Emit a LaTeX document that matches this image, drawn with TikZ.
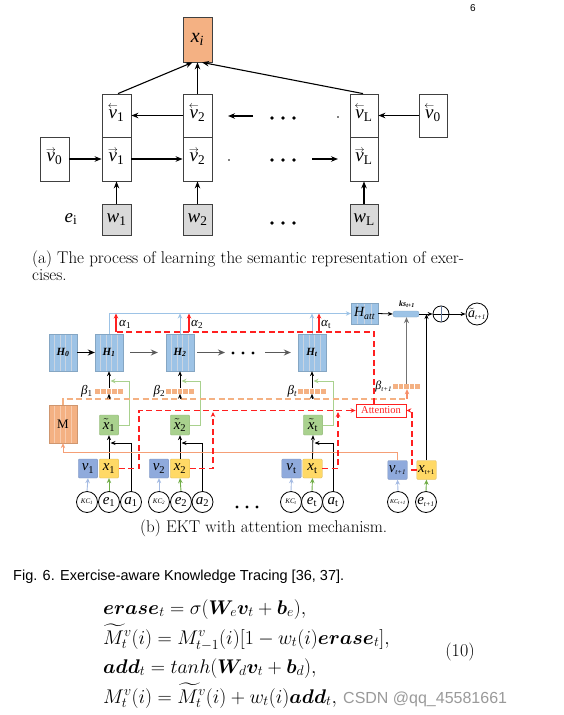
\RequirePackage{fix-cm}
\documentclass[tikz,border=0pt]{standalone}
\usepackage{amsmath,bm}
\usepackage{fontspec}
\newfontfamily\tnr{Liberation Serif}
\newfontfamily\arial{Liberation Sans}
\usetikzlibrary{arrows.meta,calc}
\definecolor{orn}{HTML}{F4B183}
\definecolor{gry}{HTML}{D9D9D9}
\definecolor{hblue}{HTML}{9DC3E6}
\definecolor{stripec}{HTML}{C9D4E2}
\definecolor{mstripe}{HTML}{F8CBAD}
\definecolor{vblue}{HTML}{8FAADC}
\definecolor{yel}{HTML}{FFD966}
\definecolor{grn}{HTML}{A9D18E}
\definecolor{grnd}{HTML}{70AD47}
\definecolor{redd}{HTML}{FF2020}
\definecolor{wmgray}{HTML}{9A9A9A}
\newcommand\lv[1]{\leavevmode\hbox{\ooalign{\itshape #1\cr\hidewidth\raisebox{0.5em}{\fontsize{10}{10}\selectfont$\leftarrow$}\hidewidth\cr}}}
\newcommand\rv[1]{\leavevmode\hbox{\ooalign{\itshape #1\cr\hidewidth\raisebox{0.5em}{\fontsize{10}{10}\selectfont$\rightarrow$}\hidewidth\cr}}}
\newcommand\tl[1]{$\tilde{\hbox{\itshape #1}}$}
\newcommand\ssb[1]{\textsubscript{\fontsize{7}{7}\selectfont #1}}
\begin{document}
\begin{tikzpicture}[x=1pt,y=-1pt,
  abox/.style={draw=black!75, line width=0.8pt, fill=white, inner sep=0pt,
    font=\tnr\fontsize{19}{19}\selectfont},
  arr/.style={-{Stealth[length=7pt,width=5.5pt]}, line width=1.1pt},
  stripes/.style={path picture={
    \foreach \i [evaluate=\i as \f using \i/(#1+1)] in {1,...,#1}
      \draw[stripec, line width=0.7pt]
        ($(path picture bounding box.north west)!\f!(path picture bounding box.north east)$) --
        ($(path picture bounding box.south west)!\f!(path picture bounding box.south east)$);}},
  mstripes/.style={path picture={
    \foreach \i [evaluate=\i as \f using \i/(#1+1)] in {1,...,#1}
      \draw[mstripe, line width=0.7pt]
        ($(path picture bounding box.north west)!\f!(path picture bounding box.north east)$) --
        ($(path picture bounding box.south west)!\f!(path picture bounding box.south east)$);}},
  bstripes/.style={path picture={
    \foreach \i [evaluate=\i as \f using \i/5] in {1,...,4}
      \draw[white, line width=0.8pt]
        ($(path picture bounding box.north west)!\f!(path picture bounding box.north east)$) --
        ($(path picture bounding box.south west)!\f!(path picture bounding box.south east)$);}},
  hb/.style={fill=hblue, draw=hblue!85!black, line width=0.3pt, inner sep=0pt,
    minimum width=28, minimum height=37, stripes=4,
    font=\tnr\bfseries\itshape\fontsize{11}{11}\selectfont},
  mb/.style={fill=orn, draw=orn!85!black, line width=0.3pt, inner sep=0pt,
    minimum width=28, minimum height=38, mstripes=4,
    font=\tnr\fontsize{13}{13}\selectfont},
  bb/.style={fill=orn, inner sep=0pt, minimum width=28, minimum height=5, bstripes},
  sbox/.style={fill=#1, draw=#1!85!black, line width=0.3pt, rounded corners=1.2pt,
    inner sep=0pt, minimum width=19.5, minimum height=19,
    font=\tnr\fontsize{15}{15}\selectfont},
  cir/.style={circle, draw=black, line width=0.8pt, fill=white, inner sep=0pt,
    minimum size=21, font=\tnr\fontsize{15}{15}\selectfont},
  lab/.style={inner sep=0pt, font=\tnr\itshape\fontsize{13}{13}\selectfont},
  barr/.style={-{Stealth[length=5pt,width=4pt]}, line width=0.8pt},
  harr/.style={-{Stealth[length=7pt,width=6pt]}, line width=1.3pt, black!65},
  bluearr/.style={hblue, line width=1pt, -{Stealth[length=5pt,width=4.5pt]}},
  redl/.style={redd, line width=1.1pt},
  reddash/.style={redd, line width=1.1pt, dash pattern=on 6pt off 3.5pt},
  reddarr/.style={reddash, -{Stealth[length=5pt,width=4.5pt]}},
  redarr/.style={redl, -{Stealth[length=5pt,width=4.5pt]}},
  orndash/.style={orn, line width=1.1pt, dash pattern=on 6pt off 3.5pt},
  ornarr/.style={orn!80!red, line width=1.1pt, -{Stealth[length=5pt,width=4.5pt]}},
  ornsol/.style={orn!90!red, line width=0.9pt, -{Stealth[length=5pt,width=4.5pt]}},
  grnarr/.style={grn, line width=0.9pt, -{Stealth[length=5pt,width=4.5pt]}},
  gdarr/.style={grnd, line width=0.9pt, -{Stealth[length=5pt,width=4.5pt]}},
  lbarr/.style={vblue!80!white, line width=0.9pt, -{Stealth[length=5pt,width=4.5pt]}},
  grayarr/.style={black!55, line width=1.3pt, -{Stealth[length=6pt,width=5pt]}},
  txt/.style={inner sep=0pt, anchor=base west},
  eqf/.style={txt, font=\fontsize{19.8}{21}\selectfont}
]
\useasboundingbox (0,0) rectangle (563,715);
\fill[white] (0,0) rectangle (563,715);

% ---------------- part (a) ----------------
\node[font=\arial\fontsize{10}{10}\selectfont, inner sep=0pt] (pg) at (473,8) {6};

\node[abox, fill=orn, minimum width=29, minimum height=45, font=\tnr\fontsize{20}{20}\selectfont] (xi) at (197.5,39.5) {\itshape x\textsubscript{i}};

\node[abox, minimum width=29, minimum height=43] (u1) at (116.5,115.5) {\lv{v}\textsubscript{1}};
\node[abox, minimum width=29, minimum height=44] (l1) at (116.5,159) {\rv{v}\textsubscript{1}};
\node[abox, minimum width=29, minimum height=43] (u2) at (197.5,115.5) {\lv{v}\textsubscript{2}};
\node[abox, minimum width=29, minimum height=44] (l2) at (197.5,159) {\rv{v}\textsubscript{2}};
\node[abox, minimum width=28, minimum height=43] (uL) at (364,115.5) {\lv{v}\textsubscript{L}};
\node[abox, minimum width=28, minimum height=44] (lL) at (364,159) {\rv{v}\textsubscript{L}};
\node[abox, minimum width=29, minimum height=44] (v0L) at (54.5,159) {\rv{v}\textsubscript{0}};
\node[abox, minimum width=28, minimum height=43] (v0R) at (433,115.5) {\lv{v}\textsubscript{0}};

\node[abox, fill=gry, minimum width=29, minimum height=31] (w1) at (116.5,219.5) {\itshape w\textsubscript{\upshape 1}};
\node[abox, fill=gry, minimum width=29, minimum height=31] (w2) at (197.5,219.5) {\itshape w\textsubscript{\upshape 2}};
\node[abox, fill=gry, minimum width=28, minimum height=31] (wL) at (364,219.5) {\itshape w\textsubscript{\upshape L}};
\node[inner sep=0pt, font=\tnr\fontsize{19}{19}\selectfont] (ei) at (71,219) {\itshape e\textsubscript{\upshape i}};

\draw[arr] (u2.west) -- (u1.east);
\coordinate (pa) at (253,116); \coordinate (pb) at (228,116);
\draw[arr] (pa) -- (pb);
\draw[arr] (v0R.west) -- (uL.east);
\draw[arr] (v0L.east) -- (l1.west);
\draw[arr] (l1.east) -- (l2.west);
\coordinate (pc) at (312,159); \coordinate (pd) at (338,159);
\draw[arr] (pc) -- (pd);
\draw[arr] (w1.north) -- (l1.south);
\draw[arr] (w2.north) -- (l2.south);
\draw[arr] (wL.north) -- (lL.south);
\draw[arr] ($(u1.north)+(1.5,0)$) -- ($(xi.south)+(-5,0)$);
\draw[arr] (u2.north) -- (xi.south);
\draw[arr] ($(uL.north)+(-1,0)$) -- ($(xi.south)+(4.5,0)$);

\foreach \x in {272,283,294} {
  \fill (\x,118) circle (1.8);
  \fill (\x,160) circle (1.8);
  \fill (\x,223) circle (1.8);
}
\fill (338,117) circle (0.9);
\fill (229,160) circle (0.9);

\node[txt, font=\fontsize{17}{19}\selectfont] (capa1) at (32,263) {(a) The process of learning the semantic representation of exer-};
\node[txt, font=\fontsize{17}{19}\selectfont] (capa2) at (32,280) {cises.};

% ---------------- part (b) ----------------
\node[hb] (h0) at (63,352.5) {H\textsubscript{0}};
\node[hb] (h1) at (109,352.5) {H\textsubscript{1}};
\node[hb] (h2) at (180,352.5) {H\textsubscript{2}};
\node[hb] (ht) at (312,352.5) {H\textsubscript{t}};
\node[hb, minimum width=27, minimum height=21, stripes=3,
  font=\tnr\itshape\fontsize{14}{14}\selectfont] (hatt) at (364.5,313.5) {H\textsubscript{att}};
\node[mb] (M) at (63,424) {M};

\draw[harr, black] (h0) -- (h1);
\draw[harr, shorten <=7pt, shorten >=8pt] (h1) -- (h2);
\coordinate (dh1) at (225,352.5); \coordinate (dh2) at (265,352.5);
\draw[harr, shorten <=3pt] (h2.east) -- (dh1);
\draw[harr, shorten >=7pt] (dh2) -- (ht.west);
\foreach \x in {233,243,253} \fill (\x,353) circle (1.6);

% beta bars
\node[bb] (b1) at (109,391) {};
\node[bb] (b2) at (180,391) {};
\node[bb] (bt) at (312,391) {};
\node[bb, minimum width=27] (btp) at (406.5,386.5) {};
\node[lab, anchor=east] (lb1) at ($(b1.west)+(-2,0)$) {β\textsubscript{\upshape 1}};
\node[lab, anchor=east] (lb2) at ($(b2.west)+(-0.5,0)$) {β\textsubscript{\upshape 2}};
\node[lab, anchor=east] (lbt) at ($(bt.west)+(-0.5,0)$) {β\textsubscript{t}};
\node[lab, anchor=east, font=\tnr\itshape\fontsize{12}{12}\selectfont] (lbtp) at ($(btp.west)+(-0.5,0.5)$) {β\ssb{t+1}};

% x tilde, x, v boxes
\node[sbox=grn, minimum height=20] (xt1) at (109,425) {\tl{x}\textsubscript{1}};
\node[sbox=grn, minimum height=20] (xt2) at (180,425) {\tl{x}\textsubscript{2}};
\node[sbox=grn, minimum height=20] (xtt) at (313,425) {\tl{x}\textsubscript{t}};

\node[sbox=vblue] (v1) at (88,468.5) {\itshape v\textsubscript{\upshape 1}};
\node[sbox=yel] (x1) at (109,468.5) {\itshape x\textsubscript{\upshape 1}};
\node[sbox=vblue] (v2) at (159,468.5) {\itshape v\textsubscript{\upshape 2}};
\node[sbox=yel] (x2) at (180,468.5) {\itshape x\textsubscript{\upshape 2}};
\node[sbox=vblue] (vt) at (291.5,468.5) {\itshape v\textsubscript{\upshape t}};
\node[sbox=yel] (xt) at (312.5,468.5) {\itshape x\textsubscript{\upshape t}};
\node[sbox=vblue] (vtp) at (397.5,470) {\itshape v\ssb{t+1}};
\node[sbox=yel] (xtp) at (426.5,470) {\itshape x\ssb{\upshape t+1}};

% circles
\node[cir, font=\tnr\itshape\fontsize{7}{7}\selectfont] (kc1) at (87,502) {KC\textsubscript{1}};
\node[cir] (e1) at (109,502) {\itshape e\textsubscript{\upshape 1}};
\node[cir] (a1) at (131,502) {\itshape a\textsubscript{\upshape 1}};
\node[cir, font=\tnr\itshape\fontsize{7}{7}\selectfont] (kc2) at (159,502) {KC\textsubscript{2}};
\node[cir] (e2) at (181,502) {\itshape e\textsubscript{\upshape 2}};
\node[cir] (a2) at (202.5,502) {\itshape a\textsubscript{\upshape 2}};
\node[cir, font=\tnr\itshape\fontsize{7}{7}\selectfont] (kct) at (291,502) {KC\textsubscript{t}};
\node[cir] (et) at (312,502) {\itshape e\textsubscript{\upshape t}};
\node[cir] (at) at (333,502) {\itshape a\textsubscript{\upshape t}};
\node[cir, font=\tnr\itshape\fontsize{6}{6}\selectfont] (kctp) at (398,502) {KC\textsubscript{t+1}};
\node[cir] (etp) at (426,502) {\itshape e\ssb{t+1}};
\foreach \x in {237,247,257} \fill (\x,507) circle (1.6);

% circle -> box arrows
\foreach \k/\v in {kc1/v1,kc2/v2,kct/vt,kctp/vtp} \draw[lbarr] (\k.north) -- (\v.south);
\foreach \e/\x in {e1/x1,e2/x2,et/xt,etp/xtp} \draw[gdarr] (\e.north) -- (\x.south);

% x -> x tilde
\draw[barr] (x1.north) -- (xt1.south);
\draw[barr] (x2.north) -- (xt2.south);
\draw[barr] (xt.north) -- (xtt.south);
% a -> join
\coordinate (k1) at (109,443); \coordinate (k2) at (180,443); \coordinate (k3) at (313,443);
\draw[barr, shorten >=1.5pt] (a1.north) |- (k1);
\draw[barr, shorten >=1.5pt] (a2.north) |- (k2);
\draw[barr, shorten >=1.5pt] (at.north) |- (k3);

% green feedback
\coordinate (g1) at (129,381); \coordinate (g2) at (200,381); \coordinate (g3) at (333,381);
\draw[grnarr, shorten >=1.5pt] (xt1.east) -| (g1) -- (g1 -| h1.south);
\draw[grnarr, shorten >=1.5pt] (xt2.east) -| (g2) -- (g2 -| h2.south);
\draw[grnarr, shorten >=1.5pt] (xtt.east) -| (g3) -- (g3 -| ht.south);

% beta -> H, dashed -> beta
\coordinate (o1) at (63,399); \coordinate (o2) at (407,399);
\draw[orndash] (M.north) -- (o1) -- (o2);
\draw[ornarr] (o2) -- (o2 |- btp.south);
\draw[barr] (b1.south |- o1) -- (b1.south);
\draw[barr] (b2.south |- o1) -- (b2.south);
\draw[barr] (bt.south |- o1) -- (bt.south);
\draw[barr] (b1.north) -- (h1.south);
\draw[barr] (b2.north) -- (h2.south);
\draw[barr] (bt.north) -- (ht.south);

% orange solid v_{t+1} -> M
\coordinate (os) at (63,452);
\draw[ornsol] (vtp.north) |- (os) -- (M.south);

% attention
\node[draw=redd, line width=0.8pt, fill=white, minimum width=50, minimum height=13,
  inner sep=0pt, text=redd, font=\tnr\fontsize{10.5}{10.5}\selectfont] (att) at (381,410.5) {Attention};
\coordinate (r1) at (139,410.5); \coordinate (r2) at (213,412);
\coordinate (r3) at (338,412); \coordinate (r4) at (412,410.5);
\draw[reddarr] (x1.east) -| (r1) -- (att.west);
\draw[reddarr] (x2.east) -| (r2);
\draw[reddarr] (xt.east) -| (r3);
\draw[reddarr] (xtp.west) -| (r4) -- (att.east);

% top blue line
\coordinate (bl1) at (h1.north |- hatt.west);
\draw[bluearr] (h1.north) -- (bl1) -- (hatt.west);
\draw[bluearr] (h2.north) -- (h2.north |- hatt.west);
\draw[bluearr] (ht.north) -- (ht.north |- hatt.west);

% top red line and alphas
\coordinate (ra) at (374,332);
\coordinate (rt1) at (116,332); \coordinate (rt2) at (189,332); \coordinate (rt3) at (319,332);
\draw[reddash] (att.north -| ra) -- (ra) -- (rt1);
\draw[redarr] (rt1) -- (rt1 |- hatt.west);
\draw[redarr] (rt2) -- (rt2 |- hatt.west);
\draw[redarr] (rt3) -- (rt3 |- hatt.west);
\node[lab, anchor=west] (la1) at (119,324) {α\textsubscript{\upshape 1}};
\node[lab, anchor=west] (la2) at (191,324) {α\textsubscript{\upshape 2}};
\node[lab, anchor=west] (lat) at (321,324) {α\textsubscript{\upshape t}};

% ks, oplus, output
\node[fill=hblue, draw=hblue!85!black, line width=0.3pt, rounded corners=2pt,
  minimum width=26, minimum height=6, inner sep=0pt] (ks) at (406,314) {};
\node[inner sep=0pt, font=\tnr\bfseries\itshape\fontsize{8}{8}\selectfont] (lks) at (407,304) {ks\textsubscript{t+1}};
\node[circle, draw=black, line width=0.8pt, minimum size=16, inner sep=0pt] (op) at (441,314) {};
\draw[black, line width=0.8pt] (op.west) -- (op.east);
\draw[vblue!70!black, line width=0.8pt] (op.north) -- (op.south);
\node[cir, minimum size=22, font=\tnr\fontsize{14}{14}\selectfont] (aout) at (477,314) {\tl{a}\ssb{\itshape t+1}};
\draw[barr] (hatt.east) -- (ks.west);
\draw[barr] (ks.east) -- (op.west);
\draw[barr] (op.east) -- (aout.west);
\draw[grayarr] (btp.north) -- (btp.north |- ks.south);
\draw[barr] (xtp.north) -- (xtp.north |- ks.east);

\node[txt, font=\fontsize{17}{19}\selectfont] (capb) at (140,532) {(b) EKT with attention mechanism.};

% ---------------- caption & equations ----------------
\node[txt, font=\arial\fontsize{14.5}{16}\selectfont] (fig) at (13,580) {Fig. 6. Exercise-aware Knowledge Tracing [36, 37].};
\node[eqf] (eq1) at (103,614) {$\bm{erase}_t = \sigma(\bm{W}_e\bm{v}_t + \bm{b}_e),$};
\node[eqf] (eq2) at (103,644) {$\widetilde{M}^v_t(i) = M^v_{t-1}(i)[1 - w_t(i)\bm{erase}_t],$};
\node[eqf] (eq3) at (103,673) {$\bm{add}_t = tanh(\bm{W}_d\bm{v}_t + \bm{b}_d),$};
\node[eqf] (eq4) at (103,703) {$M^v_t(i) = \widetilde{M}^v_t(i) + w_t(i)\bm{add}_t,$};
\node[inner sep=0pt, font=\fontsize{18}{20}\selectfont] (eqn) at (460,652) {(10)};
\node[txt, text=wmgray, font=\arial\fontsize{16}{17}\selectfont] (wm) at (343,703) {CSDN @qq\_45581661};
\end{tikzpicture}
\end{document}
